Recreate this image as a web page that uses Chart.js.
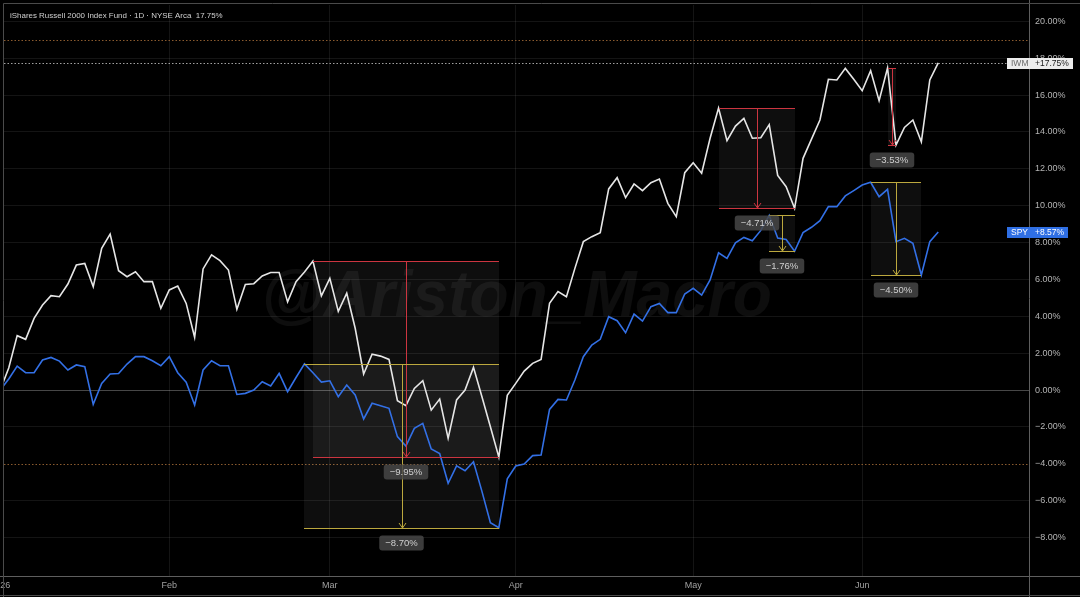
<!DOCTYPE html>
<html>
<head>
<meta charset="utf-8">
<script src="https://cdn.jsdelivr.net/npm/chart.js@4.4.1/dist/chart.umd.min.js"></script>
<style>
  html, body { margin: 0; padding: 0; background: #000; }
  #wrap { width: 1080px; height: 597px; position: relative; }
</style>
</head>
<body>
<div id="wrap"><canvas id="perfChart"></canvas></div>
<script>
// daily % change since Jan 2 2026, one value per trading day
const iwm = [
  0, 1.2, 2.95, 2.75, 3.89, 4.61, 5.12, 5.06, 5.75, 6.78,
  6.87, 5.61, 7.69, 8.46, 6.47, 6.15, 6.42, 5.88, 5.88, 4.43,
  5.43, 5.64, 4.70, 2.86, 6.57, 7.33, 7.02, 6.51, 4.38, 5.73,
  5.77, 6.19, 6.38, 6.38, 4.78, 5.88, 6.40, 7.00, 5.11, 6.06,
  4.27, 5.25, 3.35, 0.87, 1.94, 1.84, 1.66, -0.58, -0.85, 0.09,
  0.51, -1.09, -0.49, -2.62, -0.54, 0.00, 1.23, -0.36, -1.99, -3.64,
  -0.29, 0.36, 1.03, 1.45, 1.66, 4.70, 5.34, 5.06, 6.60, 8.05,
  8.32, 8.54, 10.91, 11.52, 10.44, 11.18, 10.82, 11.25, 11.45, 10.13,
  9.41, 11.79, 12.33, 11.76, 13.66, 15.30, 13.53, 14.32, 14.74, 13.66,
  13.69, 14.40, 11.64, 11.03, 9.86, 12.57, 13.61, 14.65, 16.86, 16.82,
  17.45, 16.86, 16.24, 17.33, 15.70, 17.47, 13.29, 14.25, 14.65, 13.47,
  16.82, 17.75
];
const spy = [
  0, 0.60, 1.30, 0.94, 0.94, 1.63, 1.77, 1.57, 1.09, 1.36,
  1.27, -0.78, 0.36, 0.87, 0.90, 1.41, 1.81, 1.81, 1.59, 1.32,
  1.81, 0.94, 0.42, -0.81, 1.09, 1.59, 1.32, 1.32, -0.24, -0.18,
  0.00, 0.45, 0.22, 0.90, -0.09, 0.68, 1.42, 0.94, 0.43, 0.50,
  -0.36, 0.27, -0.27, -1.57, -0.72, -0.85, -0.99, -2.53, -3.04, -2.08,
  -1.81, -3.20, -3.44, -5.06, -4.11, -4.38, -3.89, -5.50, -7.20, -7.47,
  -4.82, -4.12, -4.02, -3.56, -3.53, -1.05, -0.51, -0.54, 0.54, 1.81,
  2.44, 2.75, 3.98, 3.76, 3.11, 4.12, 3.74, 4.52, 4.70, 4.20,
  4.20, 5.21, 5.52, 5.15, 5.97, 7.45, 7.14, 7.99, 8.28, 8.10,
  8.66, 9.48, 8.25, 8.17, 7.53, 8.54, 8.83, 9.19, 9.95, 9.95,
  10.53, 10.82, 11.12, 11.27, 10.49, 10.89, 8.05, 8.23, 7.96, 6.24,
  8.05, 8.57
];

// x axis: index of first trading day of each month
const monthTickIdx = [0, 20, 39, 61, 82, 102];
const monthTickLabels = ['2026', 'Feb', 'Mar', 'Apr', 'May', 'Jun'];
const yTicks = [-8, -6, -4, -2, 0, 2, 4, 6, 8, 10, 12, 14, 16, 18, 20];

// drawdown measurements (peak index -> trough index)
const rangeSeries = ['IWM', 'SPY', 'IWM', 'SPY', 'IWM', 'SPY'];
const rangeStart = [37, 36, 85, 91, 105, 103];
const rangeEnd = [59, 59, 94, 94, 106, 109];
const rangeLabels = ['\u22129.95%', '\u22128.70%', '\u22124.71%', '\u22121.76%', '\u22123.53%', '\u22124.50%'];

// horizontal level lines drawn on the chart
const levelLines = [19, -4];

const titleText = 'iShares Russell 2000 Index Fund \u00b7 1D \u00b7 NYSE Arca  17.75%';
const watermark = '@Ariston_Macro';

const FONT = '"Liberation Sans", Arial, sans-serif';
const RED = '#cc3540';
const YELLOW = '#bca83e';
const IWM_COLOR = '#e6e6e6';
const SPY_COLOR = '#3370e6';

function fmtPct(v) {
  return (v < 0 ? '\u2212' : '') + Math.abs(v).toFixed(2) + '%';
}

function rangeGeom(chart, k) {
  const xs = chart.scales.x, ys = chart.scales.y;
  const vals = rangeSeries[k] === 'IWM' ? iwm : spy;
  return {
    x0: Math.round(xs.getPixelForValue(rangeStart[k])),
    x1: Math.round(xs.getPixelForValue(rangeEnd[k])),
    yTop: Math.round(ys.getPixelForValue(vals[rangeStart[k]])),
    yBot: Math.round(ys.getPixelForValue(vals[rangeEnd[k]])),
    color: rangeSeries[k] === 'IWM' ? RED : YELLOW
  };
}

const decor = {
  id: 'decor',
  beforeDraw(chart) {
    const ctx = chart.ctx;
    ctx.save();
    ctx.fillStyle = '#000';
    ctx.fillRect(0, 0, chart.width, chart.height);
    ctx.restore();
  },
  beforeDatasetsDraw(chart) {
    const ctx = chart.ctx, ca = chart.chartArea, ys = chart.scales.y;
    ctx.save();
    ctx.beginPath();
    ctx.rect(ca.left, ca.top, ca.right - ca.left, ca.bottom - ca.top);
    ctx.clip();

    // watermark
    ctx.font = 'italic bold 64px ' + FONT;
    ctx.fillStyle = 'rgba(255,255,255,0.055)';
    ctx.textAlign = 'center';
    ctx.textBaseline = 'alphabetic';
    ctx.fillText(watermark, (ca.left + ca.right) / 2, ca.top + 0.544 * (ca.bottom - ca.top));

    // level lines
    ctx.setLineDash([1.5, 2]);
    ctx.lineWidth = 1;
    ctx.strokeStyle = '#8a5a2e';
    levelLines.forEach(v => {
      const y = Math.round(ys.getPixelForValue(v)) + 0.5;
      ctx.beginPath();
      ctx.moveTo(ca.left, y);
      ctx.lineTo(ca.right, y);
      ctx.stroke();
    });
    // last price line IWM
    ctx.strokeStyle = 'rgba(230,230,230,0.7)';
    const yl = Math.round(ys.getPixelForValue(iwm[iwm.length - 1])) + 0.5;
    ctx.beginPath();
    ctx.moveTo(ca.left, yl);
    ctx.lineTo(ca.right, yl);
    ctx.stroke();
    ctx.setLineDash([]);

    // range box fills
    ctx.fillStyle = 'rgba(255,255,255,0.055)';
    for (let k = 0; k < rangeSeries.length; k++) {
      const g = rangeGeom(chart, k);
      ctx.fillRect(g.x0, g.yTop, g.x1 - g.x0, g.yBot - g.yTop);
    }
    ctx.restore();
  },
  afterDatasetsDraw(chart) {
    const ctx = chart.ctx;
    ctx.save();
    ctx.lineWidth = 1;
    for (let k = 0; k < rangeSeries.length; k++) {
      const g = rangeGeom(chart, k);
      const xm = Math.round((g.x0 + g.x1) / 2) + 0.5;
      ctx.strokeStyle = g.color;
      ctx.beginPath();
      ctx.moveTo(g.x0, g.yTop + 0.5); ctx.lineTo(g.x1, g.yTop + 0.5);
      ctx.moveTo(g.x0, g.yBot + 0.5); ctx.lineTo(g.x1, g.yBot + 0.5);
      ctx.moveTo(xm, g.yTop); ctx.lineTo(xm, g.yBot);
      ctx.moveTo(xm - 3.5, g.yBot - 5); ctx.lineTo(xm, g.yBot); ctx.lineTo(xm + 3.5, g.yBot - 5);
      ctx.stroke();
    }
    // labels on top
    ctx.font = '9.5px ' + FONT;
    ctx.textAlign = 'center';
    ctx.textBaseline = 'middle';
    for (let k = 0; k < rangeSeries.length; k++) {
      const g = rangeGeom(chart, k);
      const xm = (g.x0 + g.x1) / 2;
      const w = ctx.measureText(rangeLabels[k]).width + 12;
      const cy = g.yBot + 15;
      ctx.fillStyle = 'rgba(70,70,70,0.85)';
      ctx.beginPath();
      ctx.roundRect(xm - w / 2, cy - 7.5, w, 15, 3);
      ctx.fill();
      ctx.fillStyle = '#cfcfcf';
      ctx.fillText(rangeLabels[k], xm, cy + 0.5);
    }
    ctx.restore();
  },
  afterDraw(chart) {
    const ctx = chart.ctx, ca = chart.chartArea, ys = chart.scales.y;
    ctx.save();
    // frame and axis separators
    ctx.strokeStyle = '#5e5e5e';
    ctx.lineWidth = 1;
    ctx.beginPath();
    ctx.moveTo(Math.round(ca.right) + 0.5, 0);
    ctx.lineTo(Math.round(ca.right) + 0.5, chart.height);
    ctx.moveTo(0, Math.round(ca.bottom) + 0.5);
    ctx.lineTo(chart.width, Math.round(ca.bottom) + 0.5);
    ctx.stroke();
    ctx.strokeStyle = '#4a4a4a';
    ctx.beginPath();
    ctx.moveTo(3.5, 3.5); ctx.lineTo(3.5, chart.height);
    ctx.moveTo(3.5, 3.5); ctx.lineTo(chart.width, 3.5);
    ctx.moveTo(0, chart.height - 1.5); ctx.lineTo(chart.width, chart.height - 1.5);
    ctx.stroke();

    // title
    ctx.font = '9px ' + FONT;
    const tw = ctx.measureText(titleText).width;
    const fs = 9 * 213 / tw;
    ctx.font = fs.toFixed(2) + 'px ' + FONT;
    ctx.fillStyle = '#d0d0d0';
    ctx.textAlign = 'left';
    ctx.textBaseline = 'middle';
    ctx.fillText(titleText, 10, 15.5);

    // last value tags
    const tags = [
      { name: 'IWM', v: iwm[iwm.length - 1], bg: '#ececec', nameColor: '#6a6a6a', valColor: '#1a1a1a', w: 66 },
      { name: 'SPY', v: spy[spy.length - 1], bg: '#2f6fe4', nameColor: '#ffffff', valColor: '#ffffff', w: 61 }
    ];
    ctx.font = '8.5px ' + FONT;
    tags.forEach(t => {
      const y = ys.getPixelForValue(t.v);
      ctx.fillStyle = t.bg;
      ctx.fillRect(1007, Math.round(y) - 5, t.w, 11);
      ctx.fillStyle = t.nameColor;
      ctx.fillText(t.name, 1011, y + 0.5);
      ctx.fillStyle = t.valColor;
      ctx.fillText('+' + t.v.toFixed(2) + '%', 1035, y + 0.5);
    });
    ctx.restore();
  }
};

const ctx = document.getElementById('perfChart').getContext('2d');
const perfChart = new Chart(ctx, {
  type: 'line',
  data: {
    datasets: [
      {
        label: 'SPY',
        data: spy.map((v, i) => ({ x: i, y: v })),
        borderColor: SPY_COLOR,
        borderWidth: 1.6,
        pointRadius: 0,
        tension: 0
      },
      {
        label: 'IWM',
        data: iwm.map((v, i) => ({ x: i, y: v })),
        borderColor: IWM_COLOR,
        borderWidth: 1.6,
        pointRadius: 0,
        tension: 0
      }
    ]
  },
  options: {
    responsive: true,
    maintainAspectRatio: false,
    animation: false,
    events: [],
    layout: { padding: { top: 5, left: 4, right: 0, bottom: 0 } },
    plugins: {
      legend: { display: false },
      tooltip: { enabled: false }
    },
    scales: {
      x: {
        type: 'linear',
        min: 0.44,
        max: 121.74,
        afterBuildTicks: s => { s.ticks = monthTickIdx.map(v => ({ value: v })); },
        afterFit: s => { s.height = 21; s.paddingLeft = 0; s.paddingRight = 0; },
        ticks: {
          autoSkip: false,
          maxRotation: 0,
          padding: 4,
          color: '#a0a0a0',
          font: { family: FONT, size: 9 },
          callback: v => monthTickLabels[monthTickIdx.indexOf(v)]
        },
        grid: {
          drawTicks: false,
          color: c => (c.tick && c.tick.value === 0) ? 'rgba(0,0,0,0)' : 'rgba(255,255,255,0.08)'
        },
        border: { display: false }
      },
      y: {
        position: 'right',
        min: -10.09,
        max: 20.89,
        afterBuildTicks: s => { s.ticks = yTicks.map(v => ({ value: v })); },
        afterFit: s => { s.width = 51; s.paddingTop = 0; s.paddingBottom = 0; },
        ticks: {
          padding: 6,
          color: '#b4b4b4',
          font: { family: FONT, size: 9 },
          callback: v => fmtPct(v)
        },
        grid: {
          drawTicks: false,
          color: c => {
            if (!c.tick) return 'rgba(255,255,255,0.08)';
            if (c.tick.value === 0) return 'rgba(255,255,255,0.28)';
            if (levelLines.includes(c.tick.value)) return 'rgba(0,0,0,0)';
            return 'rgba(255,255,255,0.08)';
          }
        },
        border: { display: false }
      }
    }
  },
  plugins: [decor]
});
</script>
</body>
</html>
